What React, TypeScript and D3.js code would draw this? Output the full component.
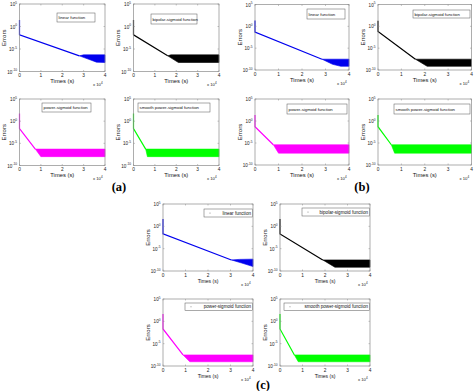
import * as d3 from "d3";

const timeTicks = [0, 1, 2, 3, 4];
const errorTicks = [1e5, 1, 1e-5, 1e-10];
const functionNames = [
  "linear function",
  "bipolar-sigmoid function",
  "power-sigmoid function",
  "smooth power-sigmoid function",
];
const functionColors = ["#0000ee", "#000000", "#ff00ff", "#00ff00"];
const panelLabels = ["(a)", "(b)", "(c)"];

// [time (x10^4 s), error] : spike at t=0, then decay until the oscillation band
const decayA = [
  [[0, 29], [0, 0.014], [2.8, 3e-7]],
  [[0, 29], [0, 0.014], [1.6, 3e-7]],
  [[0, 55], [0, 0.021], [0.74, 5e-7]],
  [[0, 55], [0, 0.021], [0.57, 5e-7]],
];
const upperA = [
  [[2.8, 3e-7], [3.0, 5e-7], [4, 5e-7]],
  [[1.6, 3e-7], [1.75, 5e-7], [4, 5e-7]],
  [[0.74, 5e-7], [4, 5e-7]],
  [[0.57, 5e-7], [4, 5e-7]],
];
const lowerA = [
  [[2.8, 3e-7], [3.3, 4e-8], [3.6, 1.2e-8], [4, 1e-8]],
  [[1.6, 3e-7], [2.1, 1e-8], [4, 1e-8]],
  [[0.74, 5e-7], [1.0, 1e-8], [4, 1e-8]],
  [[0.57, 5e-7], [0.65, 1e-8], [4, 1e-8]],
];

const decayB = [
  [[0, 23], [0, 0.05], [2.85, 3e-8]],
  [[0, 20], [0, 0.07], [1.6, 3e-8]],
  [[0, 23], [0, 0.05], [0.78, 4e-6]],
  [[0, 23], [0, 0.05], [0.57, 4e-6]],
];
const upperB = [
  [[2.85, 3e-8], [4, 3e-8]],
  [[1.6, 3e-8], [4, 3e-8]],
  [[0.78, 4e-6], [4, 4e-6]],
  [[0.57, 4e-6], [4, 4e-6]],
];
const lowerB = [
  [[2.85, 3e-8], [3.3, 2e-9], [3.65, 7e-10], [4, 7e-10]],
  [[1.6, 3e-8], [2.1, 7e-10], [4, 7e-10]],
  [[0.78, 4e-6], [1.0, 5e-8], [4, 5e-8]],
  [[0.57, 4e-6], [0.71, 5e-8], [4, 5e-8]],
];

const decayC = [
  [[0, 44], [0, 0.02], [3.04, 3e-8]],
  [[0, 44], [0, 0.02], [1.9, 3e-8]],
  [[0, 44], [0, 0.02], [0.89, 3e-8]],
  [[0, 44], [0, 0.02], [0.64, 3e-8]],
];
const upperC = [
  [[3.04, 3e-8], [3.4, 4e-8], [4, 4.5e-8]],
  [[1.9, 3e-8], [4, 3e-8]],
  [[0.89, 3e-8], [4, 3e-8]],
  [[0.64, 3e-8], [4, 3e-8]],
];
const lowerC = [
  [[3.04, 3e-8], [3.5, 6e-9], [4, 1e-9]],
  [[1.9, 3e-8], [2.44, 7e-10], [4, 7e-10]],
  [[0.89, 3e-8], [1.19, 9e-10], [4, 9e-10]],
  [[0.64, 3e-8], [0.81, 9e-10], [4, 9e-10]],
];

// layout (pixels)
const groups = [
  {
    decay: decayA, upper: upperA, lower: lowerA,
    cols: [[19.5, 105], [133.5, 219]], rows: [[4, 71.5], [99, 165.5]],
    label: [119, 191],
    legends: [[57, 13, 95, 22], [151, 14, 197, 24], [42, 103, 91, 112], [138, 103, 210, 112]],
    compact: false,
  },
  {
    decay: decayB, upper: upperB, lower: lowerB,
    cols: [[255, 349], [378, 471.5]], rows: [[4.5, 70], [99, 165]],
    label: [362, 191],
    legends: [[307, 9, 345, 19], [413, 10, 470, 18], [287, 104, 347, 114], [394, 104, 470, 114]],
    compact: false,
  },
  {
    decay: decayC, upper: upperC, lower: lowerC,
    cols: [[163, 253], [280, 370]], rows: [[204, 271], [299, 366]],
    label: [263, 389],
    legends: [[204, 209, 252.5, 217], [302, 208, 369.5, 216], [185, 303, 252.5, 310.5], [284, 303, 369.5, 310.5]],
    compact: true,
  },
];

const font = "'Liberation Sans', Arial, sans-serif";
const axisColor = "#8a8a8a";

function Panel({ box, decay, upper, lower, color, name, legend, compact }) {
  const [x0, x1, y0, y1] = box;
  const x = d3.scaleLinear().domain([0, 4]).range([x0, x1]);
  const y = d3.scaleLog().domain([1e-10, 1e5]).range([y1, y0]);
  const line = d3
    .line<number[]>()
    .x((d) => x(d[0]))
    .y((d) => y(d[1]));
  const band = line([...upper, ...lower.slice().reverse()]) + "Z";
  const [lx0, ly0, lx1, ly1] = legend;
  const legendSize = compact ? 4.6 : 4.3;

  return (
    <g fontFamily={font}>
      <path d={band} fill={color} stroke={color} strokeWidth={0.6} />
      <path d={line(decay)} fill="none" stroke={color} strokeWidth={1.2} />
      <rect x={x0} y={y0} width={x1 - x0} height={y1 - y0} fill="none" stroke={axisColor} strokeWidth={0.7} />
      {timeTicks.map((t) => (
        <g key={t}>
          <line x1={x(t)} x2={x(t)} y1={y1} y2={y1 - 1.5} stroke={axisColor} strokeWidth={0.5} />
          <line x1={x(t)} x2={x(t)} y1={y0} y2={y0 + 1.5} stroke={axisColor} strokeWidth={0.5} />
          <text x={x(t)} y={y1 + 5.5} fontSize={4.8} textAnchor="middle" fill="#222">
            {t}
          </text>
        </g>
      ))}
      {errorTicks.map((v) => (
        <g key={v}>
          <line x1={x0} x2={x0 + 1.5} y1={y(v)} y2={y(v)} stroke={axisColor} strokeWidth={0.5} />
          <line x1={x1} x2={x1 - 1.5} y1={y(v)} y2={y(v)} stroke={axisColor} strokeWidth={0.5} />
          <text x={x0 - 2.5} y={y(v) + 2} fontSize={4.6} textAnchor="end" fill="#222">
            10
            <tspan dy={-2.2} fontSize={3.2}>
              {Math.round(Math.log10(v))}
            </tspan>
          </text>
        </g>
      ))}
      <text x={(x0 + x1) / 2} y={y1 + 11.5} fontSize={compact ? 5 : 5.8} textAnchor="middle" fill="#111">
        Times (s)
      </text>
      <text x={x1 - 12} y={y1 + 14.5} fontSize={4.2} fill="#222">
        x 10
        <tspan dy={-2} fontSize={3}>
          4
        </tspan>
      </text>
      <text
        transform={`translate(${x0 - 13.5},${(y0 + y1) / 2}) rotate(-90)`}
        fontSize={6}
        textAnchor="middle"
        fill="#111"
      >
        Errors
      </text>
      <rect x={lx0} y={ly0} width={lx1 - lx0} height={ly1 - ly0} fill="#fff" stroke="#555" strokeWidth={0.5} />
      {compact && <circle cx={lx0 + 6} cy={(ly0 + ly1) / 2} r={0.6} fill="#888" />}
      <text
        x={compact ? lx1 - 1.5 : lx0 + 1.5}
        y={(ly0 + ly1) / 2 + 1.5}
        fontSize={legendSize}
        textAnchor={compact ? "end" : "start"}
        fill="#111"
      >
        {name}
      </text>
    </g>
  );
}

export default function App() {
  return (
    <svg width={474} height={391} style={{ position: "absolute", left: 0, top: 0, background: "#fff" }}>
      {groups.map((g, gi) => (
        <g key={gi}>
          {functionNames.map((name, i) => {
            const [cx0, cx1] = g.cols[i % 2];
            const [ry0, ry1] = g.rows[Math.floor(i / 2)];
            return (
              <Panel
                key={name}
                box={[cx0, cx1, ry0, ry1]}
                decay={g.decay[i]}
                upper={g.upper[i]}
                lower={g.lower[i]}
                color={functionColors[i]}
                name={name}
                legend={g.legends[i]}
                compact={g.compact}
              />
            );
          })}
          <text
            x={g.label[0]}
            y={g.label[1]}
            fontFamily="'Liberation Serif', 'Times New Roman', serif"
            fontWeight="bold"
            fontSize={12.5}
            textAnchor="middle"
          >
            {panelLabels[gi]}
          </text>
        </g>
      ))}
    </svg>
  );
}
